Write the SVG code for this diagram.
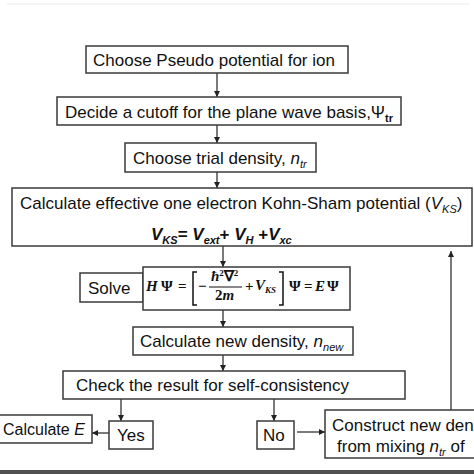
<svg xmlns="http://www.w3.org/2000/svg" width="474" height="474" viewBox="0 0 474 474">
<style>
.box{fill:#fff;stroke:#3a3a3a;stroke-width:1.5}
.t{font-family:"Liberation Sans",Arial,sans-serif;font-size:17px;fill:#111}
.eq{font-family:"Liberation Serif","Times New Roman",serif;font-weight:bold;font-size:15px;fill:#111}
.c{stroke:#333;stroke-width:1.3;fill:none}
</style>
<defs>
<marker id="ah" viewBox="0 0 8 8" refX="8" refY="4" markerWidth="6" markerHeight="6" markerUnits="userSpaceOnUse" orient="auto">
<path d="M0,0 L8,4 L0,8 z" fill="#222"/>
</marker>
</defs>
<rect x="0" y="0" width="474" height="474" fill="#fff"/>
<line x1="7" y1="4" x2="470" y2="4" stroke="#ececec" stroke-width="1"/>
<rect x="0" y="470" width="474" height="4" fill="#505050"/>

<g id="connectors">
<line class="c" x1="217" y1="73" x2="217" y2="97" marker-end="url(#ah)"/>
<line class="c" x1="217" y1="125" x2="217" y2="143" marker-end="url(#ah)"/>
<line class="c" x1="217" y1="172" x2="217" y2="188" marker-end="url(#ah)"/>
<line class="c" x1="223" y1="246" x2="223" y2="267" marker-end="url(#ah)"/>
<line class="c" x1="223" y1="310" x2="223" y2="327" marker-end="url(#ah)"/>
<line class="c" x1="223" y1="355" x2="223" y2="371" marker-end="url(#ah)"/>
<line class="c" x1="121" y1="399" x2="121" y2="421" marker-end="url(#ah)"/>
<line class="c" x1="274" y1="399" x2="274" y2="421" marker-end="url(#ah)"/>
<line class="c" x1="109" y1="433" x2="92" y2="433" marker-end="url(#ah)"/>
<line class="c" x1="297" y1="432" x2="325" y2="432" marker-end="url(#ah)"/>
<line class="c" x1="451" y1="410" x2="451" y2="251" marker-end="url(#ah)"/>
</g>

<g id="n1">
<rect class="box" x="86" y="46" width="262" height="27"/>
<text class="t" x="93" y="66">Choose Pseudo potential for ion</text>
</g>
<g id="n2">
<rect class="box" x="57" y="97" width="344" height="28"/>
<text class="t" x="65" y="118">Decide a cutoff for the plane wave basis,Ψ<tspan font-size="11" font-weight="bold" dy="4">tr</tspan></text>
</g>
<g id="n3">
<rect class="box" x="125" y="143" width="191" height="29"/>
<text class="t" x="133" y="164">Choose trial density, <tspan font-style="italic">n</tspan><tspan font-style="italic" font-size="11" dy="4">tr</tspan></text>
</g>
<g id="n4">
<rect class="box" x="12" y="188" width="460" height="58"/>
<text class="t" x="20" y="209">Calculate effective one electron Kohn-Sham potential (<tspan font-style="italic">V</tspan><tspan font-style="italic" font-size="11" dy="4">KS</tspan><tspan dy="-4">)</tspan></text>
<text class="t" x="151" y="240" font-weight="bold"><tspan font-style="italic">V</tspan><tspan font-style="italic" font-size="11" dy="4">KS</tspan><tspan dy="-4">= </tspan><tspan font-style="italic">V</tspan><tspan font-style="italic" font-size="11" dy="4">ext</tspan><tspan dy="-4">+ </tspan><tspan font-style="italic">V</tspan><tspan font-style="italic" font-size="11" dy="4">H</tspan><tspan dy="-4"> +</tspan><tspan font-style="italic">V</tspan><tspan font-style="italic" font-size="11" dy="4">xc</tspan></text>
</g>
<g id="n5">
<rect class="box" x="80" y="273" width="63" height="29"/>
<text class="t" x="88" y="294">Solve</text>
</g>
<g id="n6">
<rect class="box" x="143" y="267" width="207" height="43"/>
<text class="eq" x="146" y="291" font-style="italic">H</text>
<text class="eq" x="161" y="291">Ψ</text>
<text class="eq" x="178" y="291">=</text>
<path d="M197,272 L193,272 L193,305 L197,305" fill="none" stroke="#111" stroke-width="1.5"/>
<text class="eq" x="198" y="291">−</text>
<text class="eq" x="211" y="281"><tspan font-style="italic">ħ</tspan><tspan style="font-size:9px" dy="-5">2</tspan><tspan dy="5">∇</tspan><tspan style="font-size:9px" dy="-5">2</tspan></text>
<line x1="209" y1="287" x2="242" y2="287" stroke="#111" stroke-width="1"/>
<text class="eq" x="215" y="300">2<tspan font-style="italic">m</tspan></text>
<text class="eq" x="245" y="291">+</text>
<text class="eq" x="255" y="290"><tspan font-style="italic">V</tspan><tspan font-style="italic" style="font-size:9px" dy="3">KS</tspan></text>
<path d="M279,272 L283,272 L283,305 L279,305" fill="none" stroke="#111" stroke-width="1.5"/>
<text class="eq" x="289" y="291">Ψ</text>
<text class="eq" x="304" y="291">=</text>
<text class="eq" x="315" y="291" font-style="italic">E</text>
<text class="eq" x="327" y="291">Ψ</text>
</g>
<g id="n7">
<rect class="box" x="133" y="327" width="220" height="28"/>
<text class="t" x="140" y="347">Calculate new density, <tspan font-style="italic">n</tspan><tspan font-style="italic" font-size="11" dy="4">new</tspan></text>
</g>
<g id="n8">
<rect class="box" x="63" y="371" width="342" height="28"/>
<text class="t" x="76" y="391">Check the result for self-consistency</text>
</g>
<g id="n9">
<rect class="box" x="109" y="421" width="44" height="28"/>
<text class="t" x="117" y="441">Yes</text>
</g>
<g id="n10">
<rect class="box" x="257" y="421" width="37" height="28"/>
<text class="t" x="263" y="441">No</text>
</g>
<g id="n11">
<rect class="box" x="-5" y="415" width="97" height="28"/>
<text class="t" x="3" y="435" style="font-size:16px">Calculate <tspan font-style="italic">E</tspan></text>
</g>
<g id="n12">
<rect class="box" x="325" y="410" width="160" height="48"/>
<text class="t" x="332" y="431">Construct new den</text>
<text class="t" x="337" y="452">from mixing <tspan font-style="italic">n</tspan><tspan font-style="italic" font-size="11" dy="4">tr</tspan><tspan dy="-4"> of</tspan></text>
</g>
</svg>
